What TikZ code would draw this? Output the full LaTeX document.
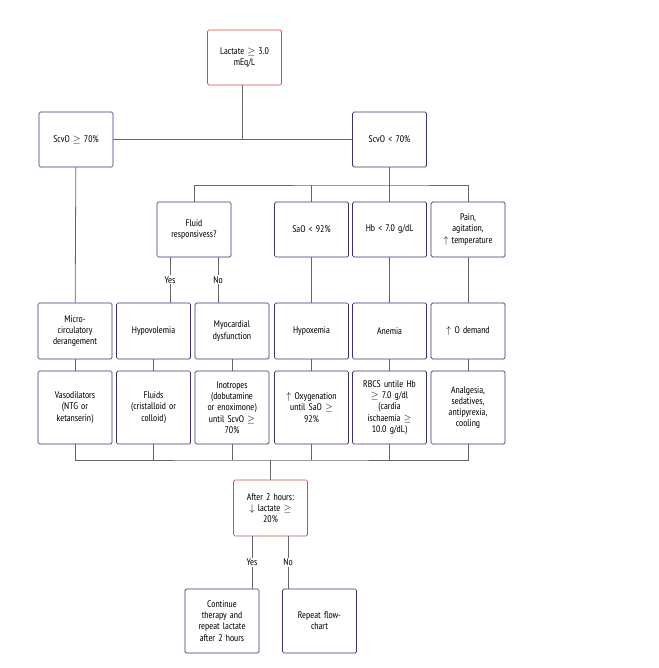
\documentclass[tikz,border=0pt]{standalone}
\usepackage{fontspec}
\setmainfont{PT Sans Narrow}
\usepackage{amssymb}
\begin{document}
\begin{tikzpicture}[x=1pt,y=-1pt,
  box/.style={draw=black!70!blue!80, line width=0.7pt, rounded corners=1.5pt, minimum width=74pt, text width=70pt, align=center, font=\fontsize{9.6}{11.2}\selectfont, inner sep=1pt},
  red/.style={box, draw=red!75!black!70},
  ln/.style={draw=black!60, line width=0.8pt},
  lab/.style={fill=white, font=\fontsize{9.6}{11}\selectfont, inner sep=1pt}]
\useasboundingbox (0,0) rectangle (658,668);
\node[red, minimum height=55pt] (lac) at (244.5,57.5) {Lactate $\geq$ 3.0\\mEq/L};
\node[box, minimum height=55pt] (hi) at (76,139.5) {ScvO $\geq$ 70\%};
\node[box, minimum height=55pt] (lo) at (389.5,139.5) {ScvO < 70\%};
\node[box, minimum height=55pt] (fl) at (194,229.5) {Fluid\\responsivess?};
\node[box, minimum height=55pt] (sa) at (311.5,229.5) {SaO < 92\%};
\node[box, minimum height=55pt] (hb) at (389.5,229.5) {Hb < 7.0 g/dL};
\node[box, minimum height=55pt] (pa) at (468,229.5) {Pain,\\agitation,\\$\uparrow$ temperature};
\foreach \n/\x/\t in {m1/75/{Micro-\\circulatory\\derangement}, m2/153.5/Hypovolemia, m3/232/{Myocardial\\dysfunction}, m4/311.5/Hypoxemia, m5/389.5/Anemia, m6/468/{$\uparrow$ O demand}}
  \node[box, minimum height=56pt] (\n) at (\x,331) {\t};
\foreach \n/\x/\t in {t1/75/{Vasodilators\\(NTG or\\ketanserin)}, t2/153.5/{Fluids\\(cristalloid or\\colloid)}, t3/232/{Inotropes\\(dobutamine\\or enoximone)\\until ScvO $\geq$\\70\%}, t4/311.5/{$\uparrow$ Oxygenation\\until SaO $\geq$\\92\%}, t5/389.5/{RBCS untile Hb\\$\geq$ 7.0 g/dl\\(cardia\\ischaemia $\geq$\\10.0 g/dL)}, t6/468/{Analgesia,\\sedatives,\\antipyrexia,\\cooling}}
  \node[box, minimum height=73pt] (\n) at (\x,407.5) {\t};
\node[red, minimum height=56pt] (af) at (270.5,508) {After 2 hours:\\$\downarrow$ lactate $\geq$\\20\%};
\node[box, minimum height=64pt] (co) at (222,621) {Continue\\therapy and\\repeat lactate\\after 2 hours};
\node[box, minimum height=64pt] (re) at (319.5,621) {Repeat flow-\\chart};
% top
\coordinate (j1) at (242,139.5);
\draw[ln] (lac.south -| j1) -- (j1);
\draw[ln] (hi.east) -- (lo.west);
\coordinate (b1) at (389.5,185);
\draw[ln] (lo) -- (b1);
\draw[ln] (fl.north) |- (b1) -| (pa.north);
\draw[ln] (sa.north) -- (sa.north |- b1);
\draw[ln] (b1) -- (hb.north);
\draw[ln] (hi) -- (m1);
\coordinate (y1) at (170,257); \coordinate (n1) at (218,257);
\draw[ln] (y1) -- (y1 |- m2.north) node[lab, pos=0.5] {Yes};
\draw[ln] (n1) -- (n1 |- m3.north) node[lab, pos=0.5] {No};
\foreach \a/\b in {sa/m4, hb/m5, pa/m6, m1/t1, m2/t2, m3/t3, m4/t4, m5/t5, m6/t6}
  \draw[ln] (\a) -- (\b);
\coordinate (b2) at (270.5,460);
\draw[ln] (t1.south) |- (b2) -| (t6.south);
\foreach \t in {t2,t3,t4,t5} \draw[ln] (\t.south) -- (\t.south |- b2);
\draw[ln] (b2) -- (af);
\coordinate (y2) at (252,536); \coordinate (n2) at (288,536);
\draw[ln] (y2) -- (y2 |- co.north) node[lab, pos=0.5] {Yes};
\draw[ln] (n2) -- (n2 |- re.north) node[lab, pos=0.5] {No};
\end{tikzpicture}
\end{document}
